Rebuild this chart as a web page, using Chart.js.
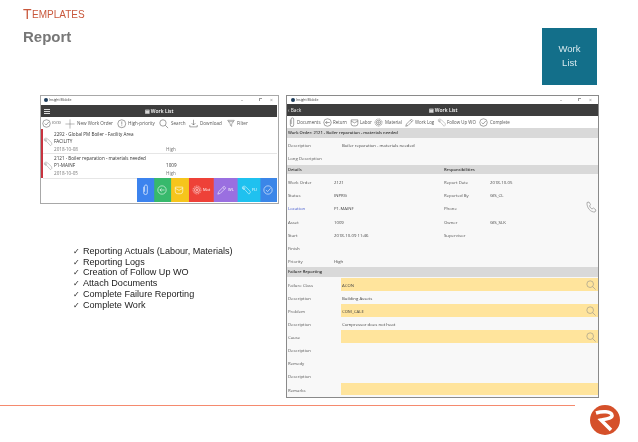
<!DOCTYPE html>
<html>
<head>
<meta charset="utf-8">
<title>Report</title>
<script src="https://cdn.jsdelivr.net/npm/chart.js@4"></script>
<style>
html, body { margin: 0; padding: 0; background: #fff; }
#slide { position: relative; width: 638px; height: 442px; overflow: hidden; font-family: "Open Sans", sans-serif; filter: blur(0.2px); }
#slide span, #slide i { position: absolute; white-space: nowrap; font-style: normal; line-height: 1; transform: translateY(-50%); }
#slide div { position: absolute; }
#slide svg { position: absolute; overflow: visible; }
#strip { position: absolute; left: 137px; top: 178px; width: 140px; height: 24px; }
</style>
</head>
<body>
<div id="slide">
  <div style="left:542px;top:28px;width:55px;height:57px;background:#136f8a"></div>
  <div style="left:40px;top:95px;width:237px;height:107px;border:1px solid #a8a8a8;background:#fff"></div>
  <div style="left:41px;top:105px;width:236px;height:12px;background:#3d3d3d"></div>
  <div style="left:41px;top:129px;width:2px;height:49px;background:#c8333f"></div>
  <div style="left:43px;top:153px;width:234px;height:1px;background:#e6e6e6"></div>
  <div style="left:43px;top:178px;width:234px;height:1px;background:#e6e6e6"></div>

  <div style="left:286px;top:95px;width:311px;height:301px;border:1px solid #8a8a8a;background:#f8f8f8"></div>
  <div style="left:287px;top:96px;width:311px;height:8px;background:#fff"></div>
  <div style="left:287px;top:104px;width:311px;height:12px;background:#3d3d3d"></div>
  <div style="left:287px;top:116px;width:311px;height:12px;background:#fff"></div>
  <div style="left:0;top:405px;width:575px;height:1px;background:#f58a6e"></div>
  <canvas id="strip" width="140" height="24"></canvas>
</div>
<script>
// slide text
const bullets = ['Reporting Actuals (Labour, Materials)', 'Reporting Logs', 'Creation of Follow Up WO', 'Attach Documents', 'Complete Failure Reporting', 'Complete Work']
const bulletY = [252, 263, 273, 284, 295, 306]

// coloured action strip of the work list
const actionNames = ['Documents', 'Return', 'Labor', 'Material', 'Work Log', 'Follow Up', 'Complete']
const actionWidths = [17, 17, 18, 25, 24, 23, 17]
const actionColors = ['#3c83ee', '#37b96c', '#f6c51c', '#ee4138', '#9a6fe0', '#1fc1ef', '#3b86e8']

// left window
const leftTools = [['New Work Order', 77], ['High-priority', 128], ['Search', 171], ['Download', 200], ['Filter', 237]]
const rows = [
    ['2292 - Global PM Boiler - Facility Area', 'FACILITY', '2018-10-08', '', 'High'],
    ['2121 - Boiler reparation - materials needed', 'P1-MAINF', '2018-10-05', '1009', 'High']
]
const rowY = [134, 158]

// right window
const rightTools = [['Documents', 297], ['Return', 333], ['Labor', 360], ['Material', 385], ['Work Log', 415], ['Follow Up WO', 447], ['Complete', 490]]
const bands = [['Work Order: 2121 - Boiler reparation - materials needed', 128, 10, ''], ['Details', 165, 9, 'Responsibilities'], ['Failure Reporting', 267, 10, '']]
const detailLeft = [['Work Order', '2121', 182], ['Status', 'INPRG', 195], ['Location', 'P1-MAINF', 208], ['Asset', '1009', 222], ['Start', '2018-10-09 11:46', 234.5], ['Finish', '', 247.5], ['Priority', 'High', 261]]
const detailRight = [['Report Date', '2018-10-05', 182], ['Reported By', 'GIS_CL', 195], ['Phone', '', 208], ['Owner', 'GIS_SLK', 222], ['Supervisor', '', 234.5]]
const failure = [['Failure Class', 'ACON', 284.5], ['Description', 'Building Assets', 298], ['Problem', 'COM_CALE', 311], ['Description', 'Compressor does not heat', 324], ['Cause', '', 337], ['Description', '', 350], ['Remedy', '', 363], ['Description', '', 376], ['Remarks', '', 389.5]]
const yellowFields = [[278, 13], [304, 13], [330, 13], [383, 12]]

const slide = document.getElementById('slide')

function txt(s, x, y, size, color, extra) {
    const el = document.createElement('span')
    el.textContent = s
    el.style.cssText = `left:${x}px;top:${y}px;font-size:${size}px;color:${color};${extra || ''}`
    slide.appendChild(el)
    return el
}

function box(x, y, w, h, color) {
    const el = document.createElement('div')
    el.style.cssText = `left:${x}px;top:${y}px;width:${w}px;height:${h}px;background:${color}`
    slide.appendChild(el)
}

const icons = {
    check: '<circle cx="12" cy="12" r="10"/><path d="M7 12l4 4 7-8"/>',
    plus: '<path d="M12 1v22M1 12h22"/>',
    info: '<circle cx="12" cy="12" r="10"/><path d="M12 6v8M12 16v2"/>',
    search: '<circle cx="10" cy="10" r="8"/><path d="M16 16l7 7"/>',
    download: '<path d="M12 2v14M7 11l5 5 5-5M2 16v5h20v-5"/>',
    filter: '<path d="M2 4h20l-8 11v7l-4-3v-4zM5 8h14"/>',
    wrench: '<path d="M3 5a6 6 0 0 1 9 0l10 10v4l-3 3-10-11a6 6 0 0 1-6-6z"/><circle cx="7" cy="8" r="2"/>',
    clip: '<path d="M8 6v13a4 4 0 0 0 8 0V5a3 3 0 0 0-6 0v12"/>',
    back: '<circle cx="12" cy="12" r="10"/><path d="M18 12H7M11 8l-4 4 4 4"/>',
    labor: '<path d="M3 5h18v10a6 6 0 0 1-6 6H9a6 6 0 0 1-6-6zM3 8l9 5 9-5"/>',
    gear: '<circle cx="12" cy="12" r="9.5" stroke-dasharray="3 1.5"/><circle cx="12" cy="12" r="6"/><circle cx="12" cy="12" r="2"/>',
    pencil: '<path d="M2 22l2-6L17 3l4 4L8 20zM14 6l4 4"/>',
    phone: '<path d="M4 3l4-1 3 5-2 3c1 3 3 5 5 6l3-2 5 4-2 4c-9 1-17-9-16-19z"/>'
}

function icon(name, x, y, size, color, width) {
    slide.insertAdjacentHTML('beforeend', `<svg viewBox="0 0 24 24" style="left:${x}px;top:${y}px;width:${size}px;height:${size}px" fill="none" stroke="${color}" stroke-width="${width || 1.4}">${icons[name]}</svg>`)
}

// header
txt('T', 23, 14, 14, '#c9583c', 'font-family:Liberation Sans')
txt('EMPLATES', 32, 14.5, 10, '#c9583c', 'font-family:Liberation Sans')
txt('Report', 23, 36, 15, '#777', 'font-family:Liberation Sans;font-weight:bold')
txt('Work', 569.5, 49, 9.5, '#d8e9ee', 'font-family:Liberation Sans;transform:translate(-50%,-50%)')
txt('List', 569.5, 63, 9.5, '#d8e9ee', 'font-family:Liberation Sans;transform:translate(-50%,-50%)')

// bullets
bullets.forEach((b, i) => {
    txt('✓', 73, bulletY[i], 8, '#222', 'font-family:DejaVu Sans')
    txt(b, 83, bulletY[i], 9.1, '#222', 'font-family:Liberation Sans')
})

// window chrome
function chrome(x, right) {
    slide.insertAdjacentHTML('beforeend', `<svg style="left:${x + 3}px;top:98px;width:4px;height:4px"><circle cx="2" cy="2" r="2" fill="#1d3c5a"/></svg>`)
    txt('Insight Mobile', x + 8, 100, 3.4, '#333')
    txt('–', right - 37, 100, 4, '#888')
    box(right - 19, 98, 3, 3, '#999')
    box(right - 18.5, 98.5, 2, 2, '#fff')
    txt('×', right - 8, 100, 5, '#888')
}
chrome(41, 278)
chrome(288, 597)

// left window
box(44, 109, 6, 1, '#ddd'); box(44, 111, 6, 1, '#ddd'); box(44, 113, 6, 1, '#ddd')
txt('▤ Work List', 159, 111, 5, '#fff', 'font-weight:600;transform:translate(-50%,-50%)')
icon('check', 42, 118.5, 9, '#555')
txt('(0/3)', 52, 123, 4.2, '#555')
icon('plus', 65, 118.5, 10, '#555', 1)
icon('info', 117, 118.5, 9.5, '#555')
icon('search', 159, 118.5, 9.5, '#555')
icon('download', 189, 118.5, 9, '#555')
icon('filter', 227, 119, 8, '#555')
leftTools.forEach(t => txt(t[0], t[1], 123, 4.6, '#555'))

rows.forEach((r, i) => {
    const y = rowY[i]
    icon('wrench', 43, y + 3, 9.5, '#8a8a8a', 1.2)
    txt(r[0], 54, y, 4.6, '#333', 'font-weight:500')
    txt(r[1], 54, y + 7, 4.6, '#333')
    txt(r[2], 54, y + 15, 4.6, '#777')
    if (r[3]) txt(r[3], 166, y + 7, 4.6, '#333')
    txt(r[4], 166, y + 15, 4.6, '#777')
})

// right window
txt('‹ Back', 288, 110, 4.8, '#eee')
txt('▤ Work List', 443, 110, 5, '#fff', 'font-weight:600;transform:translate(-50%,-50%)')
icon('clip', 287, 117, 10, '#666')
icon('back', 323, 117.5, 9, '#555')
icon('labor', 350, 117.5, 9, '#555')
icon('gear', 374, 117.5, 9, '#555')
icon('pencil', 405, 117.5, 9, '#555')
icon('wrench', 437, 117.5, 9, '#888', 1.2)
icon('check', 479, 117.5, 9, '#555')
rightTools.forEach(t => txt(t[0], t[1], 122, 4.4, '#555'))

bands.forEach(b => {
    box(287, b[1], 311, b[2], '#d9d9d9')
    txt(b[0], 288, b[1] + b[2] / 2, 4.1, '#333', 'font-weight:600')
    if (b[3]) txt(b[3], 444, b[1] + b[2] / 2, 4.1, '#333', 'font-weight:600')
})
txt('Description', 288, 145, 4.3, '#555')
txt('Boiler reparation - materials needed', 342, 145, 4.3, '#444')
txt('Long Description', 288, 158, 4.3, '#555')

detailLeft.forEach(d => {
    txt(d[0], 288, d[2], 4.3, d[0] === 'Location' ? '#3f55cc' : '#555')
    if (d[1]) txt(d[1], 334, d[2], 4.3, '#444')
})
detailRight.forEach(d => {
    txt(d[0], 444, d[2], 4.3, '#555')
    if (d[1]) txt(d[1], 490, d[2], 4.3, '#444')
})
icon('phone', 585, 201, 12, '#888', 1.3)

yellowFields.forEach(f => box(341, f[0], 256.5, f[1], '#ffe49c'))
yellowFields.slice(0, 3).forEach(f => icon('search', 586, f[0] + 1.5, 10, '#888', 1.3))
failure.forEach(f => {
    txt(f[0], 288, f[2], 4.3, '#555')
    if (f[1]) txt(f[1], 342, f[2], 4.3, '#444')
})

// logo
slide.insertAdjacentHTML('beforeend', `<svg viewBox="0 0 30 30" style="left:590px;top:405px;width:30px;height:30px">
<circle cx="15" cy="15" r="15" fill="#d5502a"/>
<path d="M6 8C12 6 21 6 22 10C23 13 16 14 11 15L21 25" fill="none" stroke="#fff" stroke-width="3.5"/></svg>`)

// action strip, stacked bar
new Chart(document.getElementById('strip'), {
    type: 'bar',
    data: {
        labels: ['actions'],
        datasets: actionNames.map((name, i) => ({
            label: name,
            data: [actionWidths[i]],
            backgroundColor: actionColors[i],
            borderWidth: 0,
            barPercentage: 1,
            categoryPercentage: 1
        }))
    },
    options: {
        indexAxis: 'y',
        responsive: false,
        animation: false,
        layout: { padding: 0 },
        plugins: { legend: { display: false }, tooltip: { enabled: false } },
        scales: {
            x: { stacked: true, display: false, min: 0, max: 141 },
            y: { stacked: true, display: false }
        }
    }
})

// icons on the strip
icon('clip', 140, 184, 11, '#fff')
icon('back', 157, 185, 10, '#fff')
icon('labor', 174, 185, 10, '#fff')
icon('gear', 192, 185, 10, '#fff')
txt('Mat', 203, 190, 4, '#fff')
icon('pencil', 217, 185, 10, '#fff')
txt('WL', 228, 190, 4, '#fff')
icon('wrench', 241, 185, 10, '#fff', 1.2)
txt('FU', 252, 190, 4, '#fff')
icon('check', 263, 185, 10, '#fff')
</script>
</body>
</html>
